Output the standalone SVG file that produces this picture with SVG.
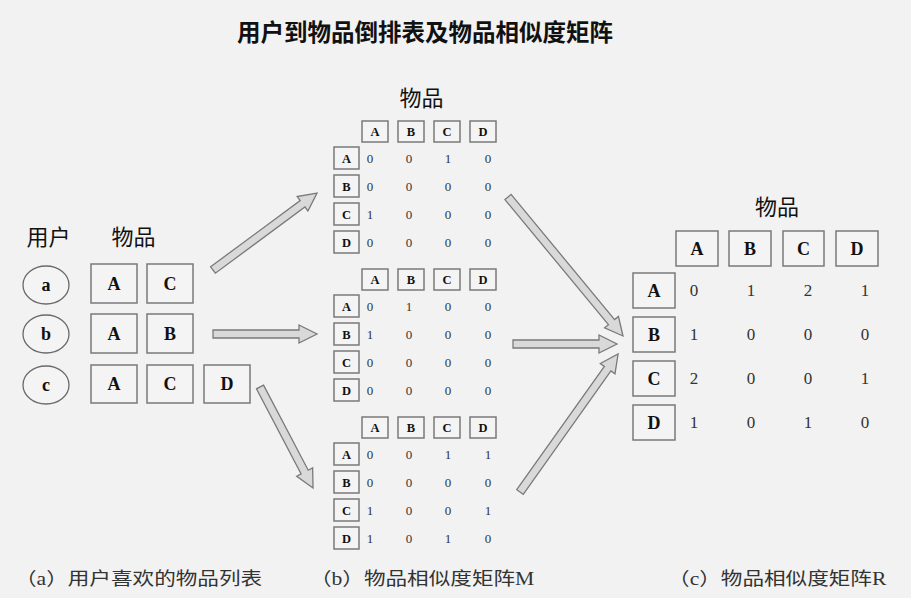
<svg xmlns="http://www.w3.org/2000/svg" width="911" height="598" viewBox="0 0 911 598">
<style>
.bg{fill:#f2f2f2}
.box{fill:#f4f4f4;stroke:#7a7a7a;stroke-width:1.5}
.ell{fill:#f4f4f4;stroke:#6a6a6a;stroke-width:1.3}
.cjk{font-family:"Noto Sans CJK SC","Noto Sans",sans-serif;fill:#111}
.title{font-size:23.5px;font-weight:bold;text-anchor:middle}
.lab{font-size:22px;text-anchor:middle}
.L{font-family:"Liberation Serif",serif;font-weight:bold;fill:#111;text-anchor:middle}
.lg{font-size:18px}
.sm{font-size:12.5px}
.v{font-family:"Liberation Serif",serif;fill:#333;text-anchor:middle}
.vs{font-size:13px}
.vl{font-size:17px}
.cap{font-family:"Liberation Serif","Noto Sans CJK SC",serif;font-size:18px;fill:#333}
.arr{fill:#d9d9d9;stroke:#7a7a7a;stroke-width:1.3;stroke-linejoin:miter}
</style>
<rect class="bg" x="0" y="0" width="911" height="598"/>

<text class="cjk title" x="425" y="41">用户到物品倒排表及物品相似度矩阵</text>

<!-- Left: user item lists -->
<g id="left-labels">
<text class="cjk lab" x="48.5" y="245">用户</text>
<text class="cjk lab" x="133.5" y="245">物品</text>
</g>
<g id="user-a">
<ellipse class="ell" cx="46" cy="285" rx="23" ry="19"/>
<text class="L lg" x="46" y="291">a</text>
<rect class="box" x="91" y="264" width="46" height="39"/><text class="L lg" x="114" y="290">A</text>
<rect class="box" x="147" y="264" width="46" height="39"/><text class="L lg" x="170" y="290">C</text>
</g>
<g id="user-b">
<ellipse class="ell" cx="46" cy="334" rx="23" ry="19"/>
<text class="L lg" x="46" y="340">b</text>
<rect class="box" x="91" y="314" width="46" height="39"/><text class="L lg" x="114" y="340">A</text>
<rect class="box" x="147" y="314" width="46" height="39"/><text class="L lg" x="170" y="340">B</text>
</g>
<g id="user-c">
<ellipse class="ell" cx="46" cy="385" rx="23" ry="19"/>
<text class="L lg" x="46" y="391">c</text>
<rect class="box" x="91" y="365" width="46" height="38"/><text class="L lg" x="114" y="390">A</text>
<rect class="box" x="147" y="365" width="46" height="38"/><text class="L lg" x="170" y="390">C</text>
<rect class="box" x="204" y="365" width="46" height="38"/><text class="L lg" x="227" y="390">D</text>
</g>

<!-- Middle matrices -->
<text class="cjk lab" x="421.5" y="106">物品</text>

<g id="matrix-a">
<rect class="box" x="362" y="121" width="26" height="21"/><text class="L sm" x="375" y="136">A</text>
<rect class="box" x="398" y="121" width="26" height="21"/><text class="L sm" x="411" y="136">B</text>
<rect class="box" x="434" y="121" width="26" height="21"/><text class="L sm" x="447" y="136">C</text>
<rect class="box" x="470" y="121" width="26" height="21"/><text class="L sm" x="483" y="136">D</text>
<rect class="box" x="334" y="147" width="25" height="22"/><text class="L sm" x="346.5" y="162.5">A</text>
<rect class="box" x="334" y="175" width="25" height="22"/><text class="L sm" x="346.5" y="190.5">B</text>
<rect class="box" x="334" y="203" width="25" height="22"/><text class="L sm" x="346.5" y="218.5">C</text>
<rect class="box" x="334" y="231" width="25" height="22"/><text class="L sm" x="346.5" y="246.5">D</text>
<text class="v vs" y="162.5"><tspan x="370">0</tspan><tspan x="409">0</tspan><tspan x="448">1</tspan><tspan x="488">0</tspan></text>
<text class="v vs" y="190.5"><tspan x="370">0</tspan><tspan x="409">0</tspan><tspan x="448">0</tspan><tspan x="488">0</tspan></text>
<text class="v vs" y="218.5"><tspan x="370">1</tspan><tspan x="409">0</tspan><tspan x="448">0</tspan><tspan x="488">0</tspan></text>
<text class="v vs" y="246.5"><tspan x="370">0</tspan><tspan x="409">0</tspan><tspan x="448">0</tspan><tspan x="488">0</tspan></text>
</g>

<g id="matrix-b">
<rect class="box" x="362" y="269" width="26" height="21"/><text class="L sm" x="375" y="284">A</text>
<rect class="box" x="398" y="269" width="26" height="21"/><text class="L sm" x="411" y="284">B</text>
<rect class="box" x="434" y="269" width="26" height="21"/><text class="L sm" x="447" y="284">C</text>
<rect class="box" x="470" y="269" width="26" height="21"/><text class="L sm" x="483" y="284">D</text>
<rect class="box" x="334" y="295" width="25" height="22"/><text class="L sm" x="346.5" y="310.5">A</text>
<rect class="box" x="334" y="323" width="25" height="22"/><text class="L sm" x="346.5" y="338.5">B</text>
<rect class="box" x="334" y="351" width="25" height="22"/><text class="L sm" x="346.5" y="366.5">C</text>
<rect class="box" x="334" y="379" width="25" height="22"/><text class="L sm" x="346.5" y="394.5">D</text>
<text class="v vs" y="310.5"><tspan x="370">0</tspan><tspan x="409">1</tspan><tspan x="448">0</tspan><tspan x="488">0</tspan></text>
<text class="v vs" y="338.5"><tspan x="370">1</tspan><tspan x="409">0</tspan><tspan x="448">0</tspan><tspan x="488">0</tspan></text>
<text class="v vs" y="366.5"><tspan x="370">0</tspan><tspan x="409">0</tspan><tspan x="448">0</tspan><tspan x="488">0</tspan></text>
<text class="v vs" y="394.5"><tspan x="370">0</tspan><tspan x="409">0</tspan><tspan x="448">0</tspan><tspan x="488">0</tspan></text>
</g>

<g id="matrix-c">
<rect class="box" x="362" y="417" width="26" height="21"/><text class="L sm" x="375" y="432">A</text>
<rect class="box" x="398" y="417" width="26" height="21"/><text class="L sm" x="411" y="432">B</text>
<rect class="box" x="434" y="417" width="26" height="21"/><text class="L sm" x="447" y="432">C</text>
<rect class="box" x="470" y="417" width="26" height="21"/><text class="L sm" x="483" y="432">D</text>
<rect class="box" x="334" y="443" width="25" height="22"/><text class="L sm" x="346.5" y="458.5">A</text>
<rect class="box" x="334" y="471" width="25" height="22"/><text class="L sm" x="346.5" y="486.5">B</text>
<rect class="box" x="334" y="499" width="25" height="22"/><text class="L sm" x="346.5" y="514.5">C</text>
<rect class="box" x="334" y="527" width="25" height="22"/><text class="L sm" x="346.5" y="542.5">D</text>
<text class="v vs" y="458.5"><tspan x="370">0</tspan><tspan x="409">0</tspan><tspan x="448">1</tspan><tspan x="488">1</tspan></text>
<text class="v vs" y="486.5"><tspan x="370">0</tspan><tspan x="409">0</tspan><tspan x="448">0</tspan><tspan x="488">0</tspan></text>
<text class="v vs" y="514.5"><tspan x="370">1</tspan><tspan x="409">0</tspan><tspan x="448">0</tspan><tspan x="488">1</tspan></text>
<text class="v vs" y="542.5"><tspan x="370">1</tspan><tspan x="409">0</tspan><tspan x="448">1</tspan><tspan x="488">0</tspan></text>
</g>

<!-- Right matrix -->
<g id="matrix-r">
<text class="cjk lab" x="777" y="215">物品</text>
<rect class="box" x="676" y="231" width="42" height="35"/><text class="L lg" x="697" y="255">A</text>
<rect class="box" x="729" y="231" width="42" height="35"/><text class="L lg" x="750" y="255">B</text>
<rect class="box" x="783" y="231" width="41" height="35"/><text class="L lg" x="803.5" y="255">C</text>
<rect class="box" x="836" y="231" width="42" height="35"/><text class="L lg" x="857" y="255">D</text>
<rect class="box" x="633" y="273" width="42" height="35"/><text class="L lg" x="654" y="297">A</text>
<rect class="box" x="633" y="317" width="42" height="35"/><text class="L lg" x="654" y="341">B</text>
<rect class="box" x="633" y="361" width="42" height="35"/><text class="L lg" x="654" y="385">C</text>
<rect class="box" x="633" y="405" width="42" height="35"/><text class="L lg" x="654" y="429">D</text>
<text class="v vl" y="296"><tspan x="694">0</tspan><tspan x="751">1</tspan><tspan x="808">2</tspan><tspan x="865">1</tspan></text>
<text class="v vl" y="340"><tspan x="694">1</tspan><tspan x="751">0</tspan><tspan x="808">0</tspan><tspan x="865">0</tspan></text>
<text class="v vl" y="384"><tspan x="694">2</tspan><tspan x="751">0</tspan><tspan x="808">0</tspan><tspan x="865">1</tspan></text>
<text class="v vl" y="428"><tspan x="694">1</tspan><tspan x="751">0</tspan><tspan x="808">1</tspan><tspan x="865">0</tspan></text>
</g>

<!-- Connectors -->
<g id="connectors">
<path class="arr" transform="translate(213,270) rotate(-36.5)" d="M0,-4 H111.4 V-9 L129.4,0 L111.4,9 V4 H0 Z"/>
<path class="arr" transform="translate(213,334)" d="M0,-4 H86 V-9 L104,0 L86,9 V4 H0 Z"/>
<path class="arr" transform="translate(260,387) rotate(62.3)" d="M0,-4 H96.1 V-9 L114.1,0 L96.1,9 V4 H0 Z"/>
<path class="arr" transform="translate(508,197) rotate(50.4)" d="M0,-4 H162.4 V-9 L180.4,0 L162.4,9 V4 H0 Z"/>
<path class="arr" transform="translate(513,344)" d="M0,-4 H86 V-9 L104,0 L86,9 V4 H0 Z"/>
<path class="arr" transform="translate(520,492) rotate(-54.6)" d="M0,-4 H151.3 V-9 L169.3,0 L151.3,9 V4 H0 Z"/>
</g>

<!-- Captions -->
<g id="captions" transform="scale(1.2,1)">
<text class="cap" x="12.5" y="585">（a）用户喜欢的物品列表</text>
<text class="cap" x="258.3" y="585">（b）物品相似度矩阵M</text>
<text class="cap" x="556.7" y="585">（c）物品相似度矩阵R</text>
</g>
</svg>
